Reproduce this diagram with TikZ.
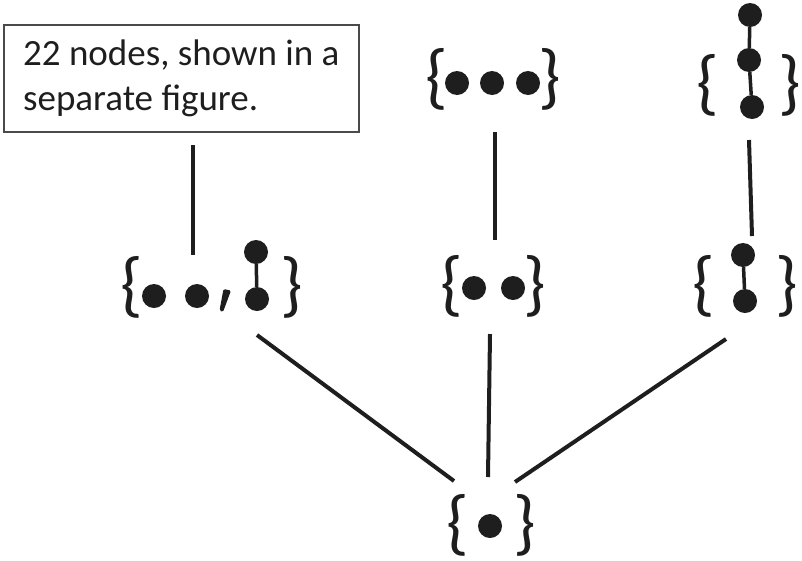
\documentclass[tikz,border=0pt]{standalone}
\usepackage{fontspec}
\setmainfont{Carlito}
\definecolor{ink}{HTML}{1E1E1E}
\definecolor{frame}{HTML}{4A4A4A}
\begin{document}
\begin{tikzpicture}[x=1pt,y=-1pt,
  dot/.style={circle, fill=ink, inner sep=0pt, minimum size=24pt},
  link/.style={line width=4pt, draw=ink},
  bond/.style={line width=3.5pt, draw=ink},
  brace/.style={inner sep=0pt, text=ink, font=\fontsize{72}{72}\selectfont},
  notebox/.style={draw=frame, line width=1.6pt, inner xsep=15pt, inner ysep=0pt,
    minimum width=355pt, minimum height=107pt, align=left, text=ink,
    font=\fontsize{37}{45}\selectfont}]
\useasboundingbox (0,0) rectangle (802,560);

% top-left box
\node[notebox, anchor=north west] (box) at (3,24) {22 nodes, shown in a\\separate figure.};

% top middle {. . .}
\node[brace] (t2l) at (437,79) {\{};
\node[brace] (t2r) at (550,79) {\}};
\node[dot] (t2a) at (457,83) {};
\node[dot] (t2b) at (492,83) {};
\node[dot] (t2c) at (528,83) {};

% top right { 3-chain }
\node[brace] (t3l) at (708,85) {\{};
\node[brace] (t3r) at (790,85) {\}};
\node[dot] (t3a) at (750,15) {};
\node[dot] (t3b) at (749,60) {};
\node[dot] (t3c) at (752,107) {};
\draw[bond] (t3a) -- (t3b);
\draw[bond] (t3b) -- (t3c);

% middle left {. . , chain}
\node[brace] (m1l) at (132,287) {\{};
\node[brace] (m1r) at (292,287) {\}};
\node[dot] (m1a) at (154,296) {};
\node[dot] (m1b) at (197,296) {};
\fill[ink, rounded corners=1.5pt] (223.5,289) -- (231,290.5) -- (223,312) -- (219.5,310.5) -- cycle;
\node[dot] (m1c) at (256,252) {};
\node[dot] (m1d) at (257,299) {};
\draw[bond] (m1c) -- (m1d);

% middle centre {. .}
\node[brace] (m2l) at (452,286) {\{};
\node[brace] (m2r) at (535,286) {\}};
\node[dot] (m2a) at (474,288) {};
\node[dot] (m2b) at (513,288) {};

% middle right { 2-chain }
\node[brace] (m3l) at (704,286) {\{};
\node[brace] (m3r) at (787,286) {\}};
\node[dot] (m3a) at (743,255) {};
\node[dot] (m3b) at (745,301) {};
\draw[bond] (m3a) -- (m3b);

% bottom {.}
\node[brace] (bl) at (458,525) {\{};
\node[brace] (br) at (525,525) {\}};
\node[dot] (bd) at (490,526) {};

% connector end points
\coordinate (boxdown) at (193,145);
\coordinate (m1up) at (193,255);
\coordinate (t2down) at (495,132);
\coordinate (m2up) at (495,240);
\coordinate (t3down) at (749,140);
\coordinate (m3up) at (752,236);
\coordinate (m1down) at (257,335);
\coordinate (bin1) at (454,481);
\coordinate (m2down) at (490,334);
\coordinate (bin2) at (488,477);
\coordinate (m3down) at (726,339);
\coordinate (bin3) at (515,482);

\draw[link] (boxdown) -- (m1up);
\draw[link] (t2down) -- (m2up);
\draw[link] (t3down) -- (m3up);
\draw[link] (m1down) -- (bin1);
\draw[link] (m2down) -- (bin2);
\draw[link] (m3down) -- (bin3);
\end{tikzpicture}
\end{document}
